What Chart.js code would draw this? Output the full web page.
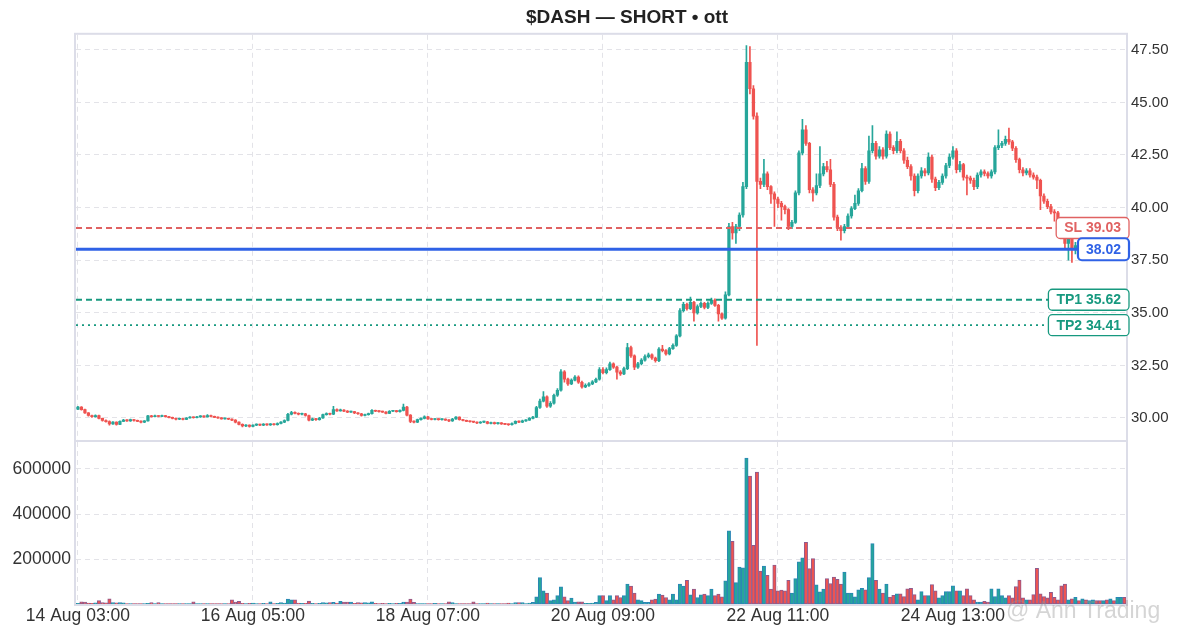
<!DOCTYPE html>
<html>
<head>
<meta charset="utf-8">
<title>$DASH — SHORT • ott</title>
<script src="https://cdn.jsdelivr.net/npm/chart.js@4.4.1/dist/chart.umd.min.js"></script>
<style>
  html, body { margin: 0; padding: 0; background: #fff; }
  #top { position: absolute; left: 0; top: 0; width: 1178px; height: 441px; }
  #bottom { position: absolute; left: 0; top: 441px; width: 1178px; height: 197px; }
</style>
</head>
<body>
<div id="top"><canvas id="priceChart"></canvas></div>
<div id="bottom"><canvas id="volumeChart"></canvas></div>
<script>
// hourly candles, 14 Aug 03:00 -> 26 Aug 14:00
var tickLabels = ["14 Aug 03:00", "16 Aug 05:00", "18 Aug 07:00", "20 Aug 09:00", "22 Aug 11:00", "24 Aug 13:00"];
var tickEvery = 50;
var priceTicks = [30, 32.5, 35, 37.5, 40, 42.5, 45, 47.5];
var volumeTicks = [200000, 400000, 600000];

var opens = [
  30.42,30.52,30.40,30.24,30.12,30.06,30.12,29.98,29.88,29.83,29.72,29.80,29.70,29.84,29.90,29.86,29.92,29.88,29.84,29.80,
  29.86,30.10,30.06,30.10,30.07,30.11,30.06,30.02,29.98,29.94,29.97,29.93,30.00,30.04,30.01,30.05,30.08,30.05,30.12,30.07,
  30.03,30.00,29.96,29.98,29.94,29.90,29.80,29.70,29.62,29.66,29.60,29.66,29.69,29.66,29.70,29.67,29.71,29.68,29.74,29.80,
  29.88,30.18,30.26,30.22,30.18,30.20,30.12,29.90,29.96,29.92,30.00,30.16,30.20,30.18,30.40,30.34,30.38,30.33,30.28,30.30,
  30.24,30.20,30.12,30.16,30.20,30.36,30.32,30.30,30.28,30.22,30.32,30.34,30.30,30.36,30.52,30.14,29.84,29.80,29.92,29.98,
  30.06,29.95,29.93,29.95,29.92,29.94,29.90,29.86,29.95,30.04,29.92,29.88,29.84,29.82,29.80,29.76,29.80,29.82,29.74,29.78,
  29.73,29.76,29.72,29.70,29.68,29.74,29.84,29.80,29.86,29.90,29.98,30.04,30.50,30.80,31.00,30.56,30.70,31.08,31.32,32.20,
  31.85,31.62,31.80,31.95,31.70,31.48,31.55,31.62,31.72,31.84,32.30,32.16,32.30,32.58,32.42,32.18,32.10,32.35,33.35,32.95,
  32.42,32.58,32.75,32.92,33.00,32.85,32.72,33.28,33.20,33.05,33.30,33.45,33.90,35.10,35.40,35.20,35.50,35.00,35.30,35.45,
  35.25,35.45,35.60,35.35,34.95,34.75,35.85,39.10,38.80,39.10,39.65,41.00,46.90,45.65,44.35,41.25,41.10,41.60,41.00,40.65,
  40.40,40.20,40.05,39.90,39.10,39.30,40.70,42.60,43.70,43.05,40.85,40.70,41.05,41.60,41.95,41.80,41.10,39.55,39.05,38.90,
  39.10,39.60,39.95,40.20,40.80,41.85,41.25,42.70,43.05,42.45,42.75,42.45,43.50,42.85,42.70,43.15,42.70,42.25,41.95,41.50,
  40.80,41.50,41.75,41.65,42.40,41.35,40.95,41.20,41.50,42.00,42.40,42.70,41.80,42.05,41.45,41.40,41.30,41.00,41.55,41.70,
  41.62,41.50,41.70,42.85,42.95,43.05,43.25,43.12,42.82,42.28,41.80,41.65,41.75,41.55,41.45,41.30,40.55,40.30,40.05,39.80,
  39.75,39.40,38.90,38.30,38.55,38.00,38.20,38.05,38.15,38.05,38.20,38.30,38.15,38.05,38.15,38.00,38.10,37.98,38.12,38.20
];
var highs = [
  30.56,30.54,30.42,30.26,30.14,30.15,30.14,30.00,29.91,29.86,29.83,29.82,29.87,29.94,29.93,29.95,29.94,29.90,29.87,29.88,
  30.13,30.13,30.14,30.12,30.14,30.13,30.08,30.04,30.00,29.99,29.99,30.02,30.07,30.06,30.08,30.11,30.10,30.16,30.14,30.09,
  30.05,30.02,30.00,30.00,29.96,29.92,29.82,29.72,29.69,29.68,29.68,29.72,29.71,29.73,29.72,29.74,29.73,29.77,29.83,29.91,
  30.22,30.32,30.29,30.24,30.23,30.22,30.14,29.99,29.98,30.03,30.19,30.24,30.23,30.55,30.43,30.42,30.40,30.35,30.33,30.32,
  30.26,30.22,30.19,30.23,30.40,30.38,30.35,30.33,30.30,30.35,30.37,30.36,30.39,30.66,30.55,30.16,29.87,29.95,30.01,30.10,
  30.08,29.97,29.97,29.97,29.96,29.96,29.92,29.98,30.07,30.06,29.94,29.90,29.86,29.84,29.82,29.83,29.85,29.84,29.80,29.80,
  29.78,29.78,29.74,29.72,29.77,29.87,29.86,29.90,29.93,30.02,30.08,30.55,30.90,31.25,31.05,30.78,31.14,31.40,32.30,32.25,
  31.90,31.86,32.02,32.00,31.75,31.62,31.68,31.78,31.90,32.40,32.40,32.38,32.66,32.62,32.46,32.25,32.42,33.55,33.42,33.00,
  32.65,32.82,33.00,33.08,33.05,32.90,33.35,33.45,33.25,33.36,33.52,33.96,35.20,35.50,35.46,35.75,35.55,35.38,35.52,35.50,
  35.52,35.70,35.66,35.40,35.00,36.00,39.25,39.30,39.20,39.75,41.20,47.70,47.65,45.80,44.50,41.40,42.30,41.70,41.05,40.75,
  40.50,40.30,40.12,39.95,39.40,40.80,42.70,44.20,43.90,43.10,40.95,41.60,42.90,42.10,42.20,42.30,41.20,39.65,39.15,39.20,
  39.70,40.05,40.60,40.90,42.10,41.95,43.40,43.90,43.15,42.90,42.85,43.65,43.60,42.95,43.60,43.25,42.80,42.40,42.05,41.60,
  41.60,41.90,41.85,42.60,42.50,41.45,41.30,41.60,42.10,42.55,42.90,42.80,42.20,42.10,41.55,41.50,41.40,41.65,41.80,41.80,
  41.70,41.80,42.95,43.70,43.15,43.40,43.78,43.20,42.90,42.35,41.90,41.85,41.85,41.65,41.55,41.35,40.65,40.40,40.15,39.90,
  39.82,39.45,38.95,38.65,38.60,38.35,38.30,38.30,38.25,38.35,38.45,38.40,38.25,38.30,38.25,38.25,38.20,38.25,38.35,38.30
];
var lows = [
  30.40,30.37,30.22,30.09,30.03,30.04,29.96,29.85,29.80,29.66,29.70,29.66,29.68,29.82,29.84,29.84,29.85,29.82,29.77,29.78,
  29.85,30.04,30.05,30.05,30.06,30.04,30.00,29.96,29.91,29.92,29.91,29.92,29.99,29.99,30.00,30.03,30.03,30.04,30.05,30.01,
  29.98,29.94,29.94,29.92,29.87,29.77,29.67,29.57,29.59,29.56,29.58,29.64,29.63,29.64,29.65,29.65,29.66,29.66,29.72,29.78,
  29.86,30.15,30.19,30.15,30.15,30.09,29.86,29.87,29.89,29.90,29.98,30.14,30.15,30.16,30.31,30.32,30.30,30.25,30.26,30.21,
  30.17,30.09,30.10,30.14,30.18,30.30,30.28,30.26,30.19,30.20,30.30,30.28,30.28,30.34,30.10,29.78,29.76,29.78,29.90,29.96,
  29.93,29.91,29.91,29.90,29.90,29.88,29.83,29.84,29.93,29.90,29.86,29.82,29.80,29.78,29.73,29.74,29.78,29.72,29.72,29.71,
  29.71,29.70,29.68,29.65,29.66,29.72,29.78,29.78,29.84,29.88,29.96,30.02,30.46,30.76,30.50,30.50,30.66,31.02,31.28,31.70,
  31.55,31.58,31.76,31.64,31.42,31.44,31.50,31.58,31.68,31.80,32.10,32.10,32.26,32.36,31.85,32.02,32.06,32.30,32.88,32.30,
  32.36,32.52,32.70,32.86,32.78,32.65,32.68,33.14,32.98,33.00,33.26,33.40,33.85,35.04,35.12,35.15,34.60,34.94,35.24,35.18,
  35.20,35.40,35.30,34.60,34.68,34.70,35.80,38.50,38.30,38.90,39.55,40.90,45.40,44.20,33.45,40.90,41.00,40.85,40.20,39.10,
  40.00,39.40,39.70,38.95,39.00,39.25,40.60,42.50,42.95,40.70,40.30,40.60,40.95,41.50,41.70,41.00,39.40,38.90,38.45,38.80,
  39.00,39.50,39.90,40.10,40.75,41.10,41.15,42.60,42.30,42.35,42.30,42.35,42.75,42.55,42.60,42.60,42.10,41.85,41.30,40.55,
  40.70,41.40,41.50,41.55,41.20,40.80,40.85,41.10,41.40,41.90,42.30,41.65,41.70,41.30,40.60,41.15,40.85,40.90,41.45,41.50,
  41.40,41.40,41.60,42.75,42.85,42.95,43.00,42.70,42.15,41.65,41.50,41.55,41.45,41.35,40.90,39.90,40.20,39.95,39.70,39.35,
  39.25,38.60,38.10,37.50,37.40,37.80,37.85,37.90,37.90,37.95,38.10,38.00,37.90,37.95,37.85,37.90,37.85,37.88,38.00,37.95
];
var closes = [
  30.52,30.40,30.24,30.12,30.06,30.12,29.98,29.88,29.83,29.72,29.80,29.70,29.84,29.90,29.86,29.92,29.88,29.84,29.80,29.86,
  30.10,30.06,30.10,30.07,30.11,30.06,30.02,29.98,29.94,29.97,29.93,30.00,30.04,30.01,30.05,30.08,30.05,30.12,30.07,30.03,
  30.00,29.96,29.98,29.94,29.90,29.80,29.70,29.62,29.66,29.60,29.66,29.69,29.66,29.70,29.67,29.71,29.68,29.74,29.80,29.88,
  30.18,30.26,30.22,30.18,30.20,30.12,29.90,29.96,29.92,30.00,30.16,30.20,30.18,30.40,30.34,30.38,30.33,30.28,30.30,30.24,
  30.20,30.12,30.16,30.20,30.36,30.32,30.30,30.28,30.22,30.32,30.34,30.30,30.36,30.52,30.14,29.84,29.80,29.92,29.98,30.06,
  29.95,29.93,29.95,29.92,29.94,29.90,29.86,29.95,30.04,29.92,29.88,29.84,29.82,29.80,29.76,29.80,29.82,29.74,29.78,29.73,
  29.76,29.72,29.70,29.68,29.74,29.84,29.80,29.86,29.90,29.98,30.04,30.50,30.80,31.00,30.56,30.70,31.08,31.32,32.20,31.85,
  31.62,31.80,31.95,31.70,31.48,31.55,31.62,31.72,31.84,32.30,32.16,32.30,32.58,32.42,32.18,32.10,32.35,33.35,32.95,32.42,
  32.58,32.75,32.92,33.00,32.85,32.72,33.28,33.20,33.05,33.30,33.45,33.90,35.10,35.40,35.20,35.50,35.00,35.30,35.45,35.25,
  35.45,35.60,35.35,34.95,34.75,35.85,39.10,38.80,39.10,39.65,41.00,46.90,45.65,44.35,41.25,41.10,41.60,41.00,40.65,40.40,
  40.20,40.05,39.90,39.10,39.30,40.70,42.60,43.70,43.05,40.85,40.70,41.05,41.60,41.95,41.80,41.10,39.55,39.05,38.90,39.10,
  39.60,39.95,40.20,40.80,41.85,41.25,42.70,43.05,42.45,42.75,42.45,43.50,42.85,42.70,43.15,42.70,42.25,41.95,41.50,40.80,
  41.50,41.75,41.65,42.40,41.35,40.95,41.20,41.50,42.00,42.40,42.70,41.80,42.05,41.45,41.40,41.30,41.00,41.55,41.70,41.62,
  41.50,41.70,42.85,42.95,43.05,43.25,43.12,42.82,42.28,41.80,41.65,41.75,41.55,41.45,41.30,40.55,40.30,40.05,39.80,39.75,
  39.40,38.90,38.30,38.55,38.00,38.20,38.05,38.15,38.05,38.20,38.30,38.15,38.05,38.15,38.00,38.10,37.98,38.12,38.20,38.08
];
var volumes = [
  3000,10000,8000,4000,3000,5000,15000,6000,5000,23000,6000,5000,6000,5000,2000,2000,1500,2000,1500,2000,
  3000,6000,2000,6000,2000,1500,2000,1500,1800,1500,2000,1500,2000,10000,1500,2000,1500,1800,2000,1500,
  2200,1500,2000,1800,18000,8000,12000,3000,2000,2500,4000,2000,1500,2500,2000,10000,2000,3000,6000,4000,
  22000,18000,19000,4000,2500,3000,13000,3000,2000,2500,6000,5000,6000,7000,4000,12000,9000,8000,9000,3000,
  6000,5000,6000,5000,10000,3000,2000,2500,2000,3000,2000,2500,3000,8000,9000,22000,7000,2000,2000,2000,
  2000,2000,2500,2000,2000,2000,10000,6000,2000,2000,2000,2000,2000,10000,2000,2000,2000,4000,2000,2000,
  2000,2000,2000,4000,2000,6000,6000,6000,2000,4000,7000,32000,117000,59000,48000,15000,18000,37000,76000,32000,
  15000,26000,8000,10000,10000,3000,3000,4000,7000,37000,37000,15000,37000,18000,37000,29000,37000,88000,80000,48000,
  18000,15000,7000,7000,18000,22000,44000,40000,29000,19000,44000,18000,88000,80000,105000,41000,66000,29000,41000,44000,
  37000,66000,37000,44000,32000,103000,325000,278000,95000,164000,161000,648000,568000,261000,586000,146000,168000,127000,66000,173000,
  59000,62000,59000,105000,48000,113000,187000,205000,274000,157000,202000,85000,54000,66000,113000,91000,120000,110000,88000,142000,
  48000,48000,32000,63000,70000,63000,117000,268000,105000,66000,48000,88000,31000,39000,45000,45000,33000,67000,70000,42000,
  18000,55000,37000,37000,86000,59000,27000,37000,55000,55000,81000,59000,59000,37000,67000,37000,18000,9000,9000,12000,
  8000,67000,33000,67000,37000,27000,37000,27000,77000,106000,27000,18000,18000,42000,159000,45000,33000,27000,52000,30000,
  18000,81000,88000,18000,23000,30000,15000,23000,18000,15000,18000,15000,15000,15000,18000,23000,15000,30000,30000,30000
];

// trade levels
var levelNames = ["SL", "", "TP1", "TP2"];
var levelValues = [39.03, 38.02, 35.62, 34.41];

// styles
var GREEN = "#26a69a", RED = "#ef5350";
var GRID = "#e3e3e8";
var levelStyle = [
  { color: "#e06262", dash: [6, 4], width: 1.8, box: 1.3 },
  { color: "#2f62e6", dash: [], width: 3, box: 2.2 },
  { color: "#17997f", dash: [6, 4], width: 1.8, box: 1.3 },
  { color: "#17997f", dash: [2, 4], width: 1.8, box: 1.3 }
];

Chart.defaults.font.family = '"Liberation Sans", Arial, sans-serif';
Chart.defaults.color = "#333";

var n = closes.length;
var xMin = -0.55, xMax = n - 0.55;
var isUp = closes.map(function (c, i) { return c >= opens[i]; });
var candleColor = isUp.map(function (u) { return u ? GREEN : RED; });

function fixedTicks(values) {
  return function (s) { s.ticks = values.map(function (v) { return { value: v }; }); };
}
function noPad(s) { s.paddingTop = 0; s.paddingBottom = 0; s.paddingLeft = 0; s.paddingRight = 0; }

function xAxis(showLabels) {
  return {
    type: "linear",
    min: xMin,
    max: xMax,
    offset: false,
    grid: { color: GRID, drawTicks: false, offset: false },
    border: { display: false, dash: [5, 4] },
    afterBuildTicks: fixedTicks(tickLabels.map(function (t, k) { return k * tickEvery; })),
    ticks: {
      display: showLabels,
      autoSkip: false,
      maxRotation: 0,
      padding: 2,
      font: { size: 17.5 },
      color: "#333",
      callback: function (v) { return tickLabels[Math.round(v / tickEvery)]; }
    },
    afterFit: function (s) { s.height = showLabels ? 34 : 0; noPad(s); }
  };
}

var framePlugin = {
  id: "frame",
  beforeDatasetsDraw: function (chart) {
    var a = chart.chartArea, ctx = chart.ctx;
    ctx.save();
    ctx.strokeStyle = "#dcdde8";
    ctx.lineWidth = 2;
    ctx.strokeRect(a.left - 1, a.top - 1, a.right - a.left + 2, a.bottom - a.top + 2);
    ctx.restore();
  }
};

var levelLabelPlugin = {
  id: "levelLabels",
  afterDraw: function (chart) {
    var ctx = chart.ctx, a = chart.chartArea, y = chart.scales.y;
    ctx.save();
    ctx.font = 'bold 14px "Liberation Sans", Arial, sans-serif';
    ctx.textAlign = "center";
    ctx.textBaseline = "middle";
    levelValues.forEach(function (v, k) {
      var st = levelStyle[k];
      var text = (levelNames[k] ? levelNames[k] + " " : "") + v.toFixed(2);
      var w = ctx.measureText(text).width + 16;
      var h = k === 1 ? 22 : 21;
      var yy = y.getPixelForValue(v);
      var right = a.right + 3;
      ctx.beginPath();
      ctx.roundRect(right - w, yy - h / 2, w, h, 4);
      ctx.fillStyle = "#fff";
      ctx.fill();
      ctx.lineWidth = st.box;
      ctx.strokeStyle = st.color;
      ctx.stroke();
      ctx.fillStyle = st.color;
      ctx.fillText(text, right - w / 2, yy + 0.5);
    });
    ctx.restore();
  }
};

var watermarkPlugin = {
  id: "watermark",
  afterDraw: function (chart) {
    var ctx = chart.ctx;
    ctx.save();
    ctx.font = '23px "Liberation Sans", Arial, sans-serif';
    ctx.fillStyle = "rgba(150,150,150,0.4)";
    ctx.textAlign = "left";
    ctx.textBaseline = "middle";
    ctx.fillText("@ Ann Trading", 1006, 171);
    ctx.restore();
  }
};

var levelDatasets = levelValues.map(function (v, k) {
  return {
    type: "line",
    data: [{ x: xMin, y: v }, { x: xMax, y: v }],
    borderColor: levelStyle[k].color,
    borderWidth: levelStyle[k].width,
    borderDash: levelStyle[k].dash,
    pointRadius: 0,
    order: 0
  };
});

new Chart(document.getElementById("priceChart"), {
  type: "bar",
  data: {
    datasets: [
      {
        label: "wick",
        data: closes.map(function (c, i) { return { x: i, y: [lows[i], highs[i]] }; }),
        backgroundColor: candleColor,
        barThickness: 1,
        grouped: false,
        order: 2
      },
      {
        label: "body",
        data: closes.map(function (c, i) { return { x: i, y: [Math.min(opens[i], c), Math.max(opens[i], c)] }; }),
        backgroundColor: candleColor,
        barThickness: 2.6,
        minBarLength: 1,
        grouped: false,
        order: 1
      }
    ].concat(levelDatasets)
  },
  options: {
    responsive: true,
    maintainAspectRatio: false,
    animation: false,
    layout: { padding: { left: 76, right: 0, top: 0, bottom: 1 } },
    plugins: {
      legend: { display: false },
      tooltip: { enabled: false },
      title: {
        display: true,
        text: "$DASH — SHORT • ott",
        font: { size: 19, weight: "bold" },
        color: "#222",
        padding: { top: 6, bottom: 6 }
      }
    },
    scales: {
      x: xAxis(false),
      y: {
        position: "right",
        min: 28.954,
        max: 48.213,
        grid: { color: GRID, drawTicks: false },
        border: { display: false, dash: [5, 4] },
        afterBuildTicks: fixedTicks(priceTicks),
        ticks: {
          padding: 5,
          font: { size: 15 },
          color: "#333",
          callback: function (v) { return v.toFixed(2); }
        },
        afterFit: function (s) { s.width = 52; noPad(s); }
      }
    }
  },
  plugins: [framePlugin, levelLabelPlugin]
});

new Chart(document.getElementById("volumeChart"), {
  type: "bar",
  data: {
    datasets: [{
      label: "volume",
      data: volumes.map(function (v, i) { return { x: i, y: v }; }),
      backgroundColor: isUp.map(function (u) { return u ? GREEN : RED; }),
      borderColor: isUp.map(function (u) { return u ? "#2a86b6" : "#8e5b8d"; }),
      borderWidth: 1,
      borderSkipped: false,
      barThickness: 3.4
    }]
  },
  options: {
    responsive: true,
    maintainAspectRatio: false,
    animation: false,
    layout: { padding: { left: 0, right: 52, top: 1, bottom: 0 } },
    plugins: { legend: { display: false }, tooltip: { enabled: false } },
    scales: {
      x: xAxis(true),
      y: {
        position: "left",
        min: 0,
        max: 720000,
        grid: { color: GRID, drawTicks: false },
        border: { display: false, dash: [5, 4] },
        afterBuildTicks: fixedTicks(volumeTicks),
        ticks: {
          padding: 5,
          font: { size: 17.5 },
          color: "#333",
          callback: function (v) { return String(v); }
        },
        afterFit: function (s) { s.width = 76; noPad(s); }
      }
    }
  },
  plugins: [framePlugin, watermarkPlugin]
});
</script>
</body>
</html>
